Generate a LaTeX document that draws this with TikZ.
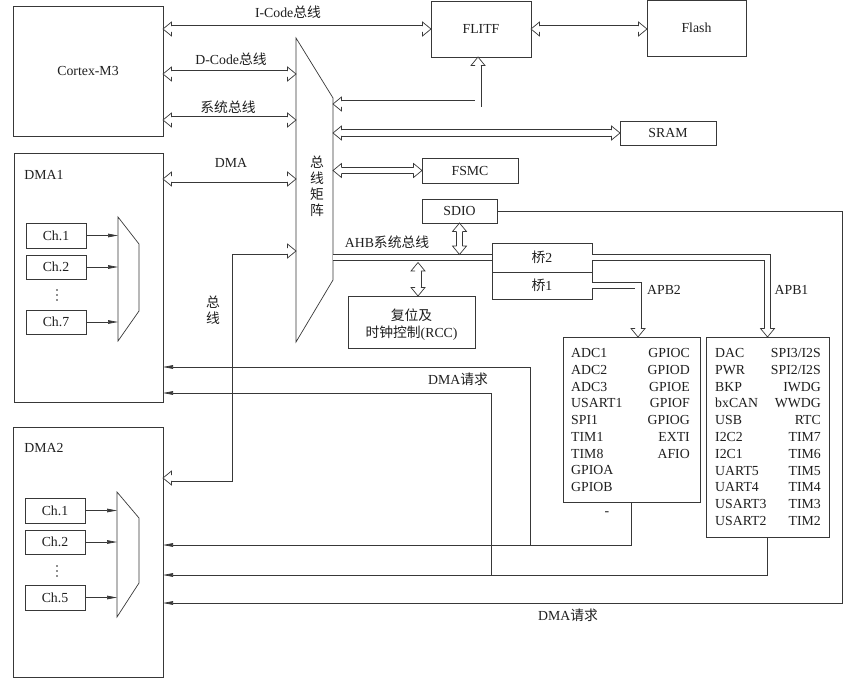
\documentclass[tikz,border=0pt]{standalone}
\usepackage{fontspec}
\setmainfont{Liberation Serif}
\newfontfamily\cjk{Noto Sans CJK SC}
\usetikzlibrary{arrows.meta}
\newcommand\zhtxt[1]{{\cjk #1}}
\definecolor{lc}{gray}{0.22}
\definecolor{tc}{gray}{0.12}
\tikzset{
  Sm/.tip={Triangle[length=10pt,width=3.6pt]},
  bhead/.pic={\filldraw[draw=lc, fill=white, line width=0.7pt, line join=miter]
     (-8.5,2.8) -- (-8.5,7) -- (0,0) -- (-8.5,-7) -- (-8.5,-2.8);},
}
\begin{document}
\begin{tikzpicture}[x=1pt,y=-1pt,
  font=\fontsize{13.8}{16.8}\selectfont,
  box/.style={draw=lc, line width=0.7pt, fill=white, inner sep=0pt, outer sep=0pt, text=tc},
  txt/.style={inner sep=0pt, text=tc},
  vtxt/.style={inner sep=0pt, text=tc, align=center, font={\cjk\fontsize{13.8}{16}\selectfont}},
  dbl/.style={draw=lc, double=white, double distance=5.6pt, line width=0.7pt, line join=miter},
  dd/.style={dbl, shorten <=8.5pt, shorten >=8.5pt},
  de/.style={dbl, shorten >=8.5pt},
  req/.style={draw=lc, line width=0.7pt, -{Sm}},
  thinl/.style={draw=lc, line width=0.7pt},
  dotf/.style={fill=tc},
]
\useasboundingbox (0,0) rectangle (856,682);
\fill[white] (0,0) rectangle (856,682);

% ---- main boxes
\node[box, minimum width=150pt, minimum height=130pt] (cortex) at (88,71) {Cortex-M3};
\node[box, minimum width=149pt, minimum height=249pt] (dma1) at (88.5,277.5) {};
\node[box, minimum width=150pt, minimum height=250pt] (dma2) at (88,552) {};
\node[txt] (dma1t) at (44,175) {DMA1};
\node[txt] (dma2t) at (44,448) {DMA2};

\node[box, minimum width=100pt, minimum height=56pt] (flitf) at (481,29) {FLITF};
\node[box, minimum width=99pt, minimum height=56pt] (flash) at (696.5,28) {Flash};
\node[box, minimum width=96pt, minimum height=24pt] (sram) at (668,133) {SRAM};
\node[box, minimum width=96pt, minimum height=25pt] (fsmc) at (470,170.5) {FSMC};
\node[box, minimum width=75pt, minimum height=24pt] (sdio) at (459.5,211) {SDIO};
\node[box, minimum width=100pt, minimum height=29pt] (br2) at (542,257.5) {\zhtxt{桥}2};
\node[box, minimum width=100pt, minimum height=27pt] (br1) at (542,285.5) {\zhtxt{桥}1};
\node[box, minimum width=127pt, minimum height=52pt] (rcc) at (411.5,322) {};
\node[txt] (rcct1) at (411.5,315) {\zhtxt{复位及}};
\node[txt] (rcct2) at (411.5,333) {\zhtxt{时钟控制}(RCC)};
\node[box, minimum width=137pt, minimum height=165pt] (apb2) at (631.5,419.5) {};
\node[box, minimum width=123pt, minimum height=200pt] (apb1) at (767.5,437) {};

% ---- channels and multiplexers
\node[box, minimum width=60pt, minimum height=25pt] (c11) at (56,235.5) {Ch.1};
\node[box, minimum width=60pt, minimum height=24pt] (c12) at (56,267) {Ch.2};
\foreach \yy in {290,295,300} \fill[dotf] (57,\yy) circle (0.8pt);
\node[box, minimum width=60pt, minimum height=24pt] (c17) at (56,322) {Ch.7};
\draw[thinl, fill=white] (118,217) -- (139,244) -- (139,311) -- (118,341) -- cycle;
\coordinate (m1) at (118,280);
\foreach \c in {c11,c12,c17} \draw[req] (\c.east) -- (\c.east -| m1);

\node[box, minimum width=60pt, minimum height=25pt] (c21) at (55,510.5) {Ch.1};
\node[box, minimum width=60pt, minimum height=24pt] (c22) at (55,542) {Ch.2};
\foreach \yy in {566,571,576} \fill[dotf] (57,\yy) circle (0.8pt);
\node[box, minimum width=60pt, minimum height=25pt] (c25) at (55,597.5) {Ch.5};
\draw[thinl, fill=white] (117,492) -- (139,518) -- (139,583) -- (117,617) -- cycle;
\coordinate (m2) at (117,555);
\foreach \c in {c21,c22,c25} \draw[req] (\c.east) -- (\c.east -| m2);

% ---- bus matrix
\draw[thinl] (296,38) -- (333,98) -- (333,280) -- (296,342) -- cycle;
\node[vtxt] (bmt) at (317,186) {总\\线\\矩\\阵};
\coordinate (bmD) at (296,74);
\coordinate (bmS) at (296,120);
\coordinate (bmA) at (296,179);
\coordinate (bmB) at (296,251);
\coordinate (bmF) at (333,104);
\coordinate (bmR) at (333,200);
\coordinate (ahbA) at (459.5,254.5);
\coordinate (ahbB) at (418,262.5);
\coordinate (bk) at (229,478);

% ---- buses (double lines with hollow heads)
\draw[dd] (cortex.east |- flitf.west) -- (flitf.west);
\pic[rotate=180] at (cortex.east |- flitf.west) {bhead};
\pic at (flitf.west) {bhead};

\draw[dd] (cortex.east |- bmD) -- (bmD);
\pic[rotate=180] at (cortex.east |- bmD) {bhead};
\pic at (bmD) {bhead};

\draw[dd] (cortex.east |- bmS) -- (bmS);
\pic[rotate=180] at (cortex.east |- bmS) {bhead};
\pic at (bmS) {bhead};

\draw[dd] (dma1.east |- bmA) -- (bmA);
\pic[rotate=180] at (dma1.east |- bmA) {bhead};
\pic at (bmA) {bhead};

\draw[dd] (bmF) -| ([xshift=-3pt]flitf.south);
\pic[rotate=180] at (bmF) {bhead};
\pic[rotate=90] at ([xshift=-3pt]flitf.south) {bhead};

\draw[dd] (flitf.east) -- (flitf.east -| flash.west);
\pic[rotate=180] at (flitf.east) {bhead};
\pic at (flitf.east -| flash.west) {bhead};

\draw[dd] (bmR |- sram.west) -- (sram.west);
\pic[rotate=180] at (bmR |- sram.west) {bhead};
\pic at (sram.west) {bhead};

\draw[dd] (bmR |- fsmc.west) -- (fsmc.west);
\pic[rotate=180] at (bmR |- fsmc.west) {bhead};
\pic at (fsmc.west) {bhead};

\draw[dbl] (bmR |- br2.west) -- (br2.west);

\draw[dd] (sdio.south) -- (ahbA);
\pic[rotate=90] at (sdio.south) {bhead};
\pic[rotate=-90] at (ahbA) {bhead};

\draw[dd] (ahbB) -- (rcc.north -| ahbB);
\pic[rotate=90] at (ahbB) {bhead};
\pic[rotate=-90] at (rcc.north -| ahbB) {bhead};

\draw[de] (br2.east) -| (apb1.north);
\pic[rotate=-90] at (apb1.north) {bhead};

\draw[de] (br1.east) -| ([xshift=6.5pt]apb2.north);
\pic[rotate=-90] at ([xshift=6.5pt]apb2.north) {bhead};

\draw[dd] (bmB) -| (bk) -- (dma2.east |- bk);
\pic at (bmB) {bhead};
\pic[rotate=180] at (dma2.east |- bk) {bhead};

% ---- bus labels
\node[txt] (licode) at (288,12) {I-Code\zhtxt{总线}};
\node[txt] (ldcode) at (231,59) {D-Code\zhtxt{总线}};
\node[txt] (lsys) at (228,107) {\zhtxt{系统总线}};
\node[txt] (ldma) at (231,163) {DMA};
\node[txt] (lahb) at (387,242) {AHB\zhtxt{系统总线}};
\node[vtxt] (lbus) at (213,310.5) {总\\线};
\node[txt] (lapb2) at (664,290) {APB2};
\node[txt] (lapb1) at (791.5,290) {APB1};

% ---- APB2 peripherals
\foreach \t [count=\i] in {ADC1,ADC2,ADC3,USART1,SPI1,TIM1,TIM8,GPIOA,GPIOB}
  \node[txt, anchor=base west] (pa\i) at (571,{357.5+16.75*(\i-1)}) {\t};
\foreach \t [count=\i] in {GPIOC,GPIOD,GPIOE,GPIOF,GPIOG,EXTI,AFIO}
  \node[txt, anchor=base east] (pb\i) at (690,{357.5+16.75*(\i-1)}) {\t};
% ---- APB1 peripherals
\foreach \t [count=\i] in {DAC,PWR,BKP,bxCAN,USB,I2C2,I2C1,UART5,UART4,USART3,USART2}
  \node[txt, anchor=base west] (qa\i) at (715,{357.5+16.8*(\i-1)}) {\t};
\foreach \t [count=\i] in {SPI3/I2S,SPI2/I2S,IWDG,WWDG,RTC,TIM7,TIM6,TIM5,TIM4,TIM3,TIM2}
  \node[txt, anchor=base east] (qb\i) at (821,{357.5+16.8*(\i-1)}) {\t};
\node[txt] (dash) at (607,514) {-};

% ---- DMA requests
\coordinate (r1) at (530,545);
\coordinate (r1t) at (530,367);
\coordinate (r2) at (491,575);
\coordinate (r2t) at (491,393);
\coordinate (r3) at (842,603);
\draw[req] (apb2.south) |- (dma2.east |- r1);
\draw[req] (r1) -- (r1t) -- (dma1.east |- r1t);
\draw[req] (apb1.south) |- (dma2.east |- r2);
\draw[req] (r2) -- (r2t) -- (dma1.east |- r2t);
\draw[req] (sdio.east) -| (r3) -- (dma2.east |- r3);
\node[txt] (lreq1) at (458,379) {DMA\zhtxt{请求}};
\node[txt] (lreq2) at (568,615) {DMA\zhtxt{请求}};
\end{tikzpicture}
\end{document}
